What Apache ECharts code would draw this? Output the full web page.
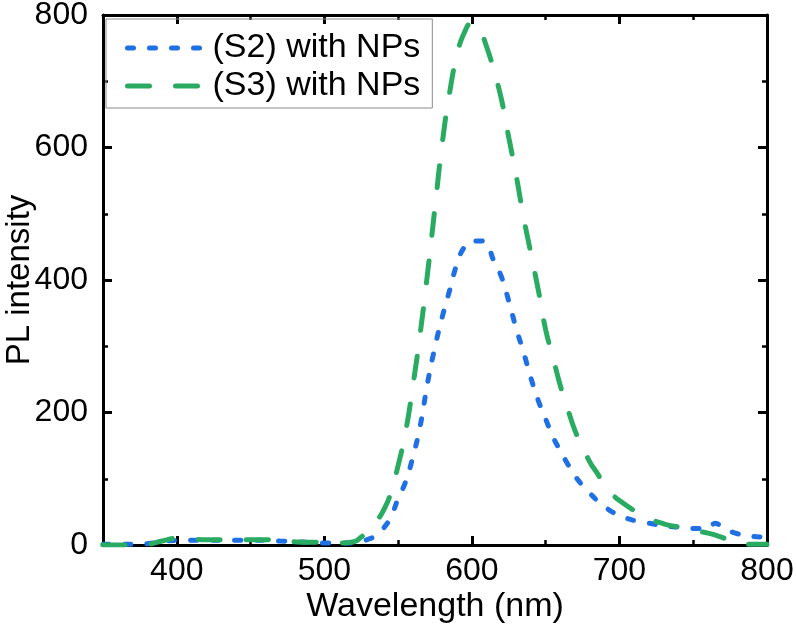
<!DOCTYPE html>
<html>
<head>
<meta charset="utf-8">
<script src="https://cdn.jsdelivr.net/npm/echarts@6/dist/echarts.min.js"></script>
<style>
  html, body { margin: 0; padding: 0; background: #fff; }
  #chart { width: 796px; height: 640px; }
</style>
</head>
<body>
<div id="chart"></div>
<script>
// wavelength grid (nm)
const wavelength = [350, 360, 370, 380, 390, 400, 410, 420, 430, 440, 450, 460, 470, 480, 490, 500, 510, 520,
  525, 530, 535, 540, 545, 550, 555, 560, 565, 570, 575, 580, 585, 590, 595, 600, 605, 610, 615, 620,
  625, 630, 635, 640, 645, 650, 655, 660, 665, 670, 675, 680, 685, 690, 695, 700,
  710, 720, 730, 740, 750, 760, 765, 770, 780, 790, 800];

// (S2) with NPs
const s2 = [1, 1, 1, 2, 5, 7, 7, 7, 7, 7, 7, 7, 6, 5, 4, 3, 3, 3,
  5, 9, 14, 25, 42, 70, 95, 133, 180, 245, 299, 345, 385, 425, 450, 459, 459, 454, 428, 405,
  368, 327, 291, 252, 218, 190, 163, 142, 122, 104, 90, 78, 67, 58, 50, 45,
  37, 33, 29, 27, 25, 25, 33, 26, 17, 13, 12];

// (S3) with NPs
const s3 = [0, 0, 0, 1, 6, 10, 9, 8, 8, 8, 8, 8, 7, 5, 4, 4, 3, 5,
  12, 22, 35, 52, 78, 120, 170, 240, 320, 411, 510, 608, 684, 740, 774, 788, 778, 752, 715, 673,
  615, 558, 495, 440, 385, 325, 283, 240, 205, 172, 148, 125, 108, 90, 77, 67,
  52, 40, 32, 27, 22, 18, 15, 11, 3, 1, 1];

const seriesNames = ["(S2) with NPs", "(S3) with NPs"];
const blue = "#1f6fe5";
const green = "#2aab62";

const pairs = (ys) => wavelength.map((x, i) => [x, ys[i]]);

const chart = echarts.init(document.getElementById("chart"), null, { renderer: "canvas" });
const font = "'Liberation Sans', Arial, sans-serif";

const blueLine = { color: blue, width: 5, type: [6, 16], cap: "round" };
const greenLine = { color: green, width: 5, type: [22, 26], cap: "round" };

const boxAxis = {
  axisLine: { show: true, onZero: false, lineStyle: { color: "#000", width: 3 } },
  axisTick: { show: true, inside: true, length: 9, lineStyle: { color: "#000", width: 3 } },
  minorTick: { show: true, splitNumber: 2, length: 5, lineStyle: { color: "#000", width: 2.5 } },
  splitLine: { show: false },
};

const option = {
  animation: false,
  backgroundColor: "#fff",
  grid: { left: 103, right: 29, top: 15, bottom: 95, containLabel: false, outerBoundsMode: "none" },
  legend: {
    orient: "vertical",
    left: 106,
    top: 19,
    padding: [10, 12, 3, 19],
    itemWidth: 80,
    itemHeight: 14,
    itemGap: 0,
    borderColor: "#8c8c8c",
    borderWidth: 1,
    itemStyle: { opacity: 0 },
    data: [
      { name: seriesNames[0], lineStyle: blueLine },
      { name: seriesNames[1], lineStyle: greenLine },
    ],
    textStyle: { fontFamily: font, fontSize: 34, color: "#000", lineHeight: 38, padding: [0, 0, 0, 0] },
  },
  xAxis: [
    Object.assign({}, boxAxis, {
      type: "value",
      position: "bottom",
      min: 350,
      max: 800,
      splitNumber: 5,
      name: "Wavelength (nm)",
      nameLocation: "middle",
      nameGap: 45,
      nameMoveOverlap: false,
      nameTextStyle: { fontFamily: font, fontSize: 34, color: "#000" },
      axisLabel: {
        fontFamily: font, fontSize: 32, color: "#000", margin: 10,
        formatter: (v) => (v % 100 === 0 ? String(v) : ""),
      },
    }),
    Object.assign({}, boxAxis, {
      type: "value",
      position: "top",
      min: 350,
      max: 800,
      splitNumber: 5,
      axisLabel: { show: false },
    }),
  ],
  yAxis: [
    Object.assign({}, boxAxis, {
      type: "value",
      position: "left",
      min: 0,
      max: 800,
      interval: 200,
      name: "PL intensity",
      nameLocation: "middle",
      nameGap: 67,
      nameMoveOverlap: false,
      nameTextStyle: { fontFamily: font, fontSize: 33, color: "#000" },
      axisLabel: { fontFamily: font, fontSize: 32, color: "#000", margin: 15 },
    }),
    Object.assign({}, boxAxis, {
      type: "value",
      position: "right",
      min: 0,
      max: 800,
      interval: 200,
      axisLabel: { show: false },
    }),
  ],
  series: [
    {
      name: seriesNames[0],
      type: "line",
      data: pairs(s2),
      smooth: 0.5,
      symbol: "none",
      color: blue,
      lineStyle: blueLine,
      z: 3,
    },
    {
      name: seriesNames[1],
      type: "line",
      data: pairs(s3),
      smooth: 0.5,
      symbol: "none",
      color: green,
      lineStyle: greenLine,
      z: 4,
    },
  ],
};

chart.setOption(option);
</script>
</body>
</html>
